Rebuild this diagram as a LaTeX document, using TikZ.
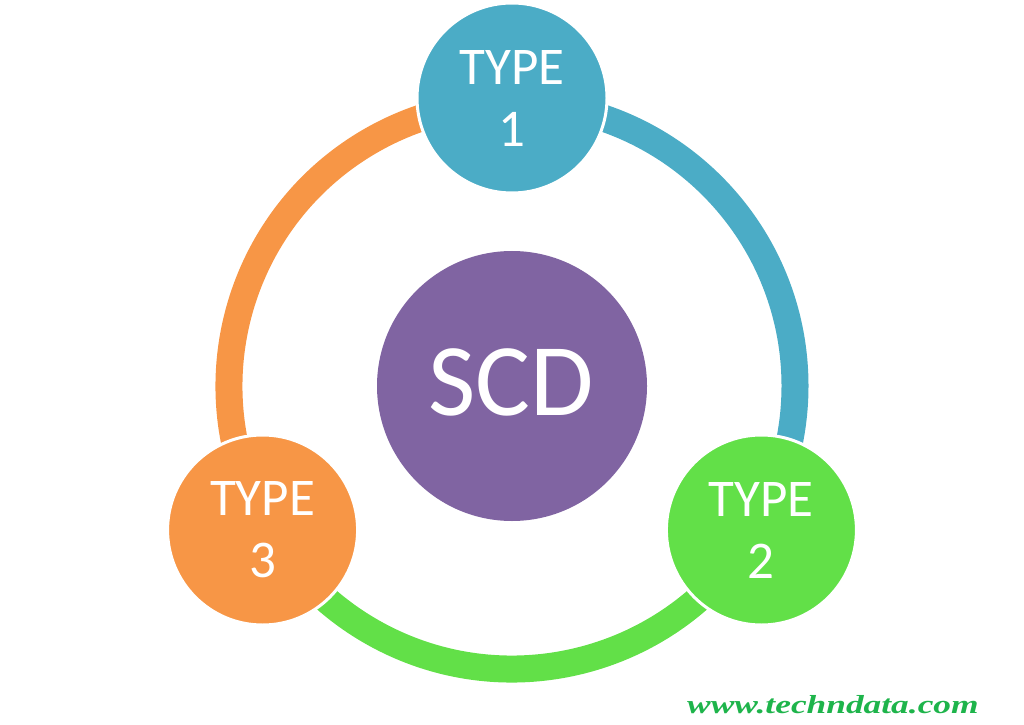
\documentclass[tikz,border=0pt]{standalone}
\usepackage{fontspec}
\usepackage{graphicx}
\usetikzlibrary{calc}
\setmainfont{Carlito}
\newfontfamily\wmfont{Liberation Serif}
\definecolor{cblue}{HTML}{4BACC6}
\definecolor{cgreen}{HTML}{62E048}
\definecolor{corange}{HTML}{F79646}
\definecolor{cpurple}{HTML}{8064A2}
\definecolor{cmark}{HTML}{1EB44B}
\tikzset{
  ringarc/.style={line width=27pt, line cap=butt},
  typecircle/.style={circle, minimum size=190pt, inner sep=0pt, draw=white, line width=3pt, text=white, align=center, font=\fontsize{53}{62}\selectfont},
  hubcircle/.style={circle, minimum size=270pt, inner sep=0pt, fill=cpurple},
  hubtext/.style={text=white, font=\fontsize{103}{110}\selectfont, inner sep=0pt}
}
\begin{document}
\begin{tikzpicture}[x=1pt,y=1pt]
\useasboundingbox (0,0) rectangle (1024,724);
\coordinate (c) at (512,338);
% ring arcs
\draw[ringarc, cblue] (c) ++(90:283) arc[start angle=90, end angle=-30, radius=283];
\draw[ringarc, cgreen] (c) ++(-30:283) arc[start angle=-30, end angle=-150, radius=283];
\draw[ringarc, corange] (c) ++(210:283) arc[start angle=210, end angle=90, radius=283];
% circles
\node[hubcircle] (hub) at (c) {};
\node[hubtext] (hublabel) at (511,342) {SCD};
\node[typecircle, fill=cblue] (t1) at ($(c)+(90:288)$) {TYPE\\1};
\node[typecircle, fill=cgreen] (t2) at ($(c)+(-30:288)$) {TYPE\\2};
\node[typecircle, fill=corange] (t3) at ($(c)+(210:288)$) {TYPE\\3};
% watermark
\node[anchor=base west, inner sep=0pt, text=cmark] (wm) at (687,11) {\scalebox{1.36}[1]{\wmfont\bfseries\itshape\fontsize{26}{30}\selectfont www.techndata.com}};
\end{tikzpicture}
\end{document}
